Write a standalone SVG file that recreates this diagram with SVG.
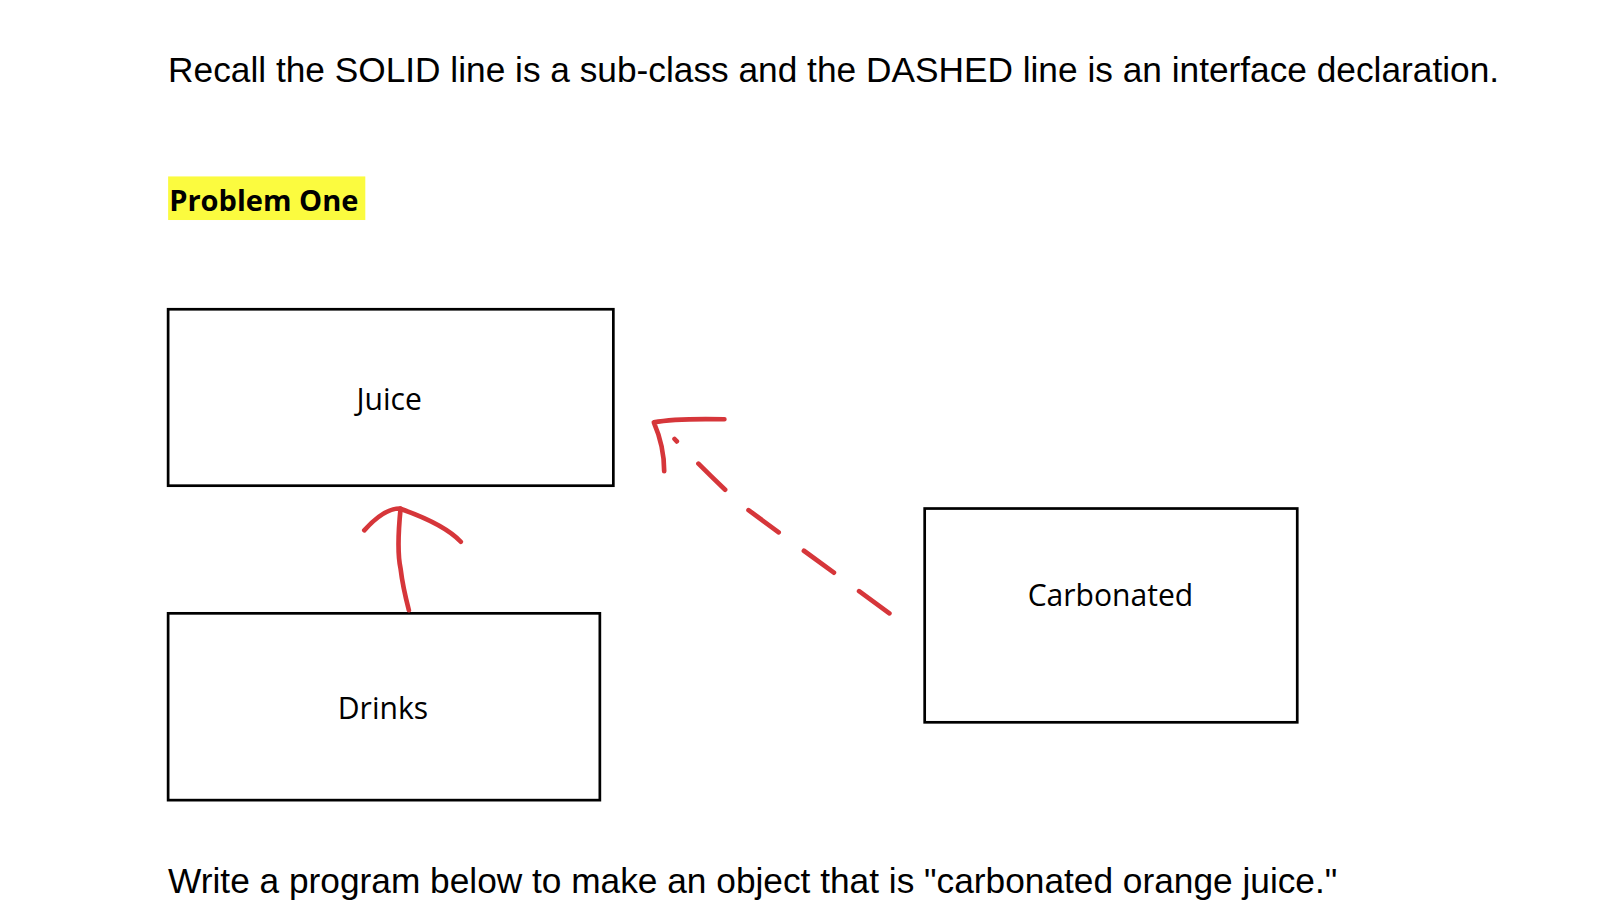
<svg xmlns="http://www.w3.org/2000/svg" width="1619" height="913" viewBox="0 0 1619 913">
<style>
.t{font-family:"Liberation Sans",Arial,sans-serif;font-size:34px;fill:#000}
.box{fill:#fff;stroke:#000;stroke-width:2.6}
.lbl{font-family:"Open Sans","Liberation Sans",sans-serif;font-size:29px;text-anchor:middle;fill:#000}
.pen{fill:none;stroke:#d6363a;stroke-width:4.5;stroke-linecap:round;stroke-linejoin:round}
</style>
<rect width="1619" height="913" fill="#fff"/>
<g transform="scale(1.0378)">
<text class="t" x="162" y="79">Recall the SOLID line is a sub-class and the DASHED line is an interface declaration.</text>
<rect x="162" y="170" width="190" height="42" fill="#fbfb3f"/>
<text x="163" y="203" style="font-family:'Open Sans','Liberation Sans',sans-serif;font-weight:bold;font-size:28px">Problem One</text>
<g id="juice"><rect class="box" x="162" y="298" width="429" height="170"/><text class="lbl" x="375" y="395">Juice</text></g>
<g id="drinks"><rect class="box" x="162" y="591" width="416" height="180"/><text class="lbl" x="369" y="693">Drinks</text></g>
<g id="carbonated"><rect class="box" x="891" y="490" width="359" height="206"/><text class="lbl" x="1070" y="584">Carbonated</text></g>
<g id="connectors">
<path class="pen" d="M394 588 Q388 565 386 548 Q382 530 386 490"/>
<path class="pen" d="M351 511 Q370 490 385 490 Q428 505 444 522"/>
<path class="pen" d="M857 591 Q760 520 715 487 Q680 455 650 423" stroke-dasharray="36 30"/>
<path class="pen" d="M640 454 Q640 430 630 407 Q650 403 698 404"/>
</g>
<text class="t" x="162" y="860">Write a program below to make an object that is "carbonated orange juice."</text>
</g>
</svg>
